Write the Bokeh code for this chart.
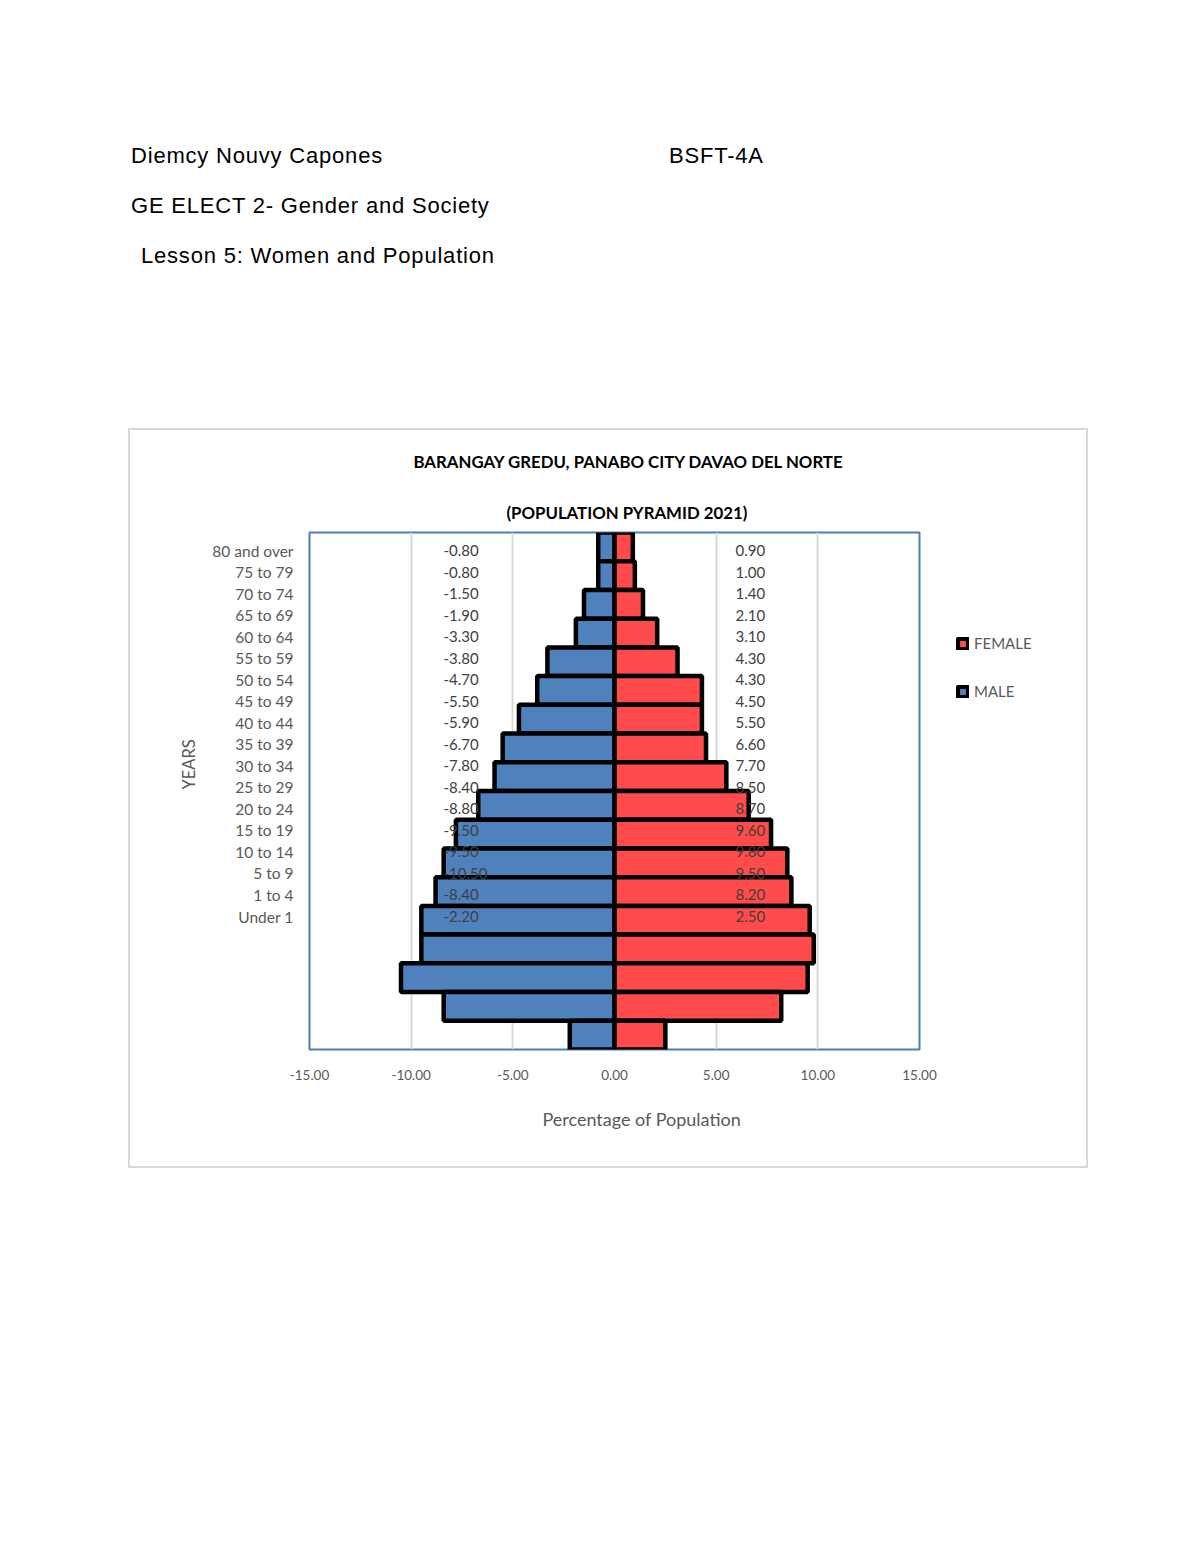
from bokeh.plotting import figure
from bokeh.layouts import column, row
from bokeh.models import (Range1d, LinearAxis, FixedTicker, NumeralTickFormatter, Title,
                          Legend, LegendItem, ColumnDataSource, Div, Spacer)
from bokeh.core.properties import value
from bokeh.embed import file_html
from bokeh.resources import INLINE

# ---------------- data ----------------
age_groups = ["80 and over", "75 to 79", "70 to 74", "65 to 69", "60 to 64", "55 to 59",
              "50 to 54", "45 to 49", "40 to 44", "35 to 39", "30 to 34", "25 to 29",
              "20 to 24", "15 to 19", "10 to 14", "5 to 9", "1 to 4", "Under 1"]
male = [-0.8, -0.8, -1.5, -1.9, -3.3, -3.8, -4.7, -5.5, -5.9, -6.7, -7.8, -8.4,
        -8.8, -9.5, -9.5, -10.5, -8.4, -2.2]
female = [0.9, 1.0, 1.4, 2.1, 3.1, 4.3, 4.3, 4.5, 5.5, 6.6, 7.7, 8.5,
          8.7, 9.6, 9.8, 9.5, 8.2, 2.5]
x_ticks = [-15, -10, -5, 0, 5, 10, 15]
series_names = ["FEMALE", "MALE"]

title_1 = "BARANGAY GREDU, PANABO CITY DAVAO DEL NORTE"
title_2 = "(POPULATION PYRAMID 2021)"
x_title = "Percentage of Population"
y_title = "YEARS"
header = [("Diemcy Nouvy Capones", 131, 156), ("BSFT-4A", 669, 156),
          ("GE ELECT 2- Gender and Society", 131, 206),
          ("Lesson 5: Women and Population", 141, 256)]

# ---------------- layout constants (page pixels) ----------------
PAGE_W = 1200
BORDER = 2
BOX_L, BOX_T, BOX_R, BOX_B = 128, 428, 1088, 1168     # chart box (outer edge of grey border)
IN_L, IN_T, IN_R, IN_B = BOX_L + BORDER, BOX_T + BORDER, BOX_R - BORDER, BOX_B - BORDER
FL, FR, FT, FB = 309, 919, 532, 1049                  # plot frame
RIGHT_PAD = 30                                        # room for the last x tick label
LAB_FIRST, LAB_STEP = 550, 21.53                      # misplaced Excel labels
LEG_X, LEG_ITEM1_TOP = 956, 633
BLUE, RED = "#4F81BD", "#FF4B4B"
GREY_TXT = "#595959"
BAR_STYLE = dict(line_color="black", line_width=4.5)

n = len(age_groups)
idx = list(range(n))
src = ColumnDataSource(dict(
    age=age_groups, male=male, female=female, idx=idx,
    male_txt=[f"{v:.2f}" for v in male], female_txt=[f"{v:.2f}" for v in female]))

inner_h = IN_B - IN_T
p = figure(width=FR + RIGHT_PAD - IN_L, height=inner_h, x_range=Range1d(-15, 15),
           y_range=Range1d(start=n - 0.5, end=-0.5),
           output_backend="svg", toolbar_location=None, y_axis_location=None,
           min_border_left=FL - IN_L, min_border_right=RIGHT_PAD,
           min_border_top=FT - IN_T, min_border_bottom=IN_B - FB, margin=0)
p.background_fill_color = "white"
p.border_fill_color = "white"
p.outline_line_color = "#4A7EBB"
p.outline_line_width = 2

# label range so that category / data labels sit where Excel put them
p.extra_y_ranges = {"lab": Range1d(start=(FB - LAB_FIRST) / LAB_STEP, end=(FT - LAB_FIRST) / LAB_STEP)}

# x axis
p.xaxis.ticker = FixedTicker(ticks=x_ticks)
p.xaxis.formatter = NumeralTickFormatter(format="0.00")
p.xaxis.axis_line_color = None
p.xaxis.major_tick_line_color = None
p.xaxis.minor_tick_line_color = None
p.xaxis.major_tick_out = 0
p.xaxis.minor_tick_out = 0
p.xaxis.major_label_standoff = 20
p.xaxis.major_label_text_font = "Lato"
p.xaxis.major_label_text_font_size = "13.5px"
p.xaxis.major_label_text_color = GREY_TXT

p.xgrid.ticker = FixedTicker(ticks=x_ticks)
p.xgrid.grid_line_color = "#D9D9D9"
p.xgrid.grid_line_width = 2
p.ygrid.grid_line_color = None

# category axis
cat_axis = LinearAxis(y_range_name="lab", ticker=FixedTicker(ticks=idx),
                      major_label_overrides={i: a for i, a in zip(idx, age_groups)},
                      axis_line_color=None, major_tick_line_color=None, minor_tick_line_color=None,
                      major_tick_out=0, minor_tick_out=0,
                      major_label_standoff=16, major_label_text_font="Lato",
                      major_label_text_font_size="15.5px", major_label_text_color=GREY_TXT)
p.add_layout(cat_axis, "left")

# titles (Excel placement is slightly off-centre, so they are left-aligned with offsets)
p.add_layout(Title(text=title_2, align="left", offset=506 - FL, standoff=19, text_font="Lato",
                   text_font_size="16.8px", text_font_style="bold", text_color="black"), "above")
p.add_layout(Title(text=title_1, align="left", offset=413 - FL, standoff=37, text_font="Lato",
                   text_font_size="16.8px", text_font_style="bold", text_color="black"), "above")
p.add_layout(Title(text=x_title, align="left", offset=542 - FL, standoff=46, text_font="Lato",
                   text_font_size="18px", text_font_style="normal", text_color=GREY_TXT), "below")
p.add_layout(Title(text=y_title, align="left", offset=FB - 789, standoff=22, text_font="Lato",
                   text_font_size="16.5px", text_font_style="normal", text_color=GREY_TXT), "left")

# bars
rm = p.hbar(y="idx", left="male", right=0, height=1.0, source=src, fill_color=BLUE, **BAR_STYLE)
rf = p.hbar(y="idx", left=0, right="female", height=1.0, source=src, fill_color=RED, **BAR_STYLE)

# data labels
p.text(x=-8.41, y="idx", text="male_txt", y_range_name="lab", source=src,
       text_font=value("Lato"), text_font_size="15px", text_color="#404040",
       text_align="left", text_baseline="middle")
p.text(x=5.95, y="idx", text="female_txt", y_range_name="lab", source=src,
       text_font=value("Lato"), text_font_size="15px", text_color="#404040",
       text_align="left", text_baseline="middle")

# legend strip (right part of the chart box); its frame is aligned with the main frame.
# Its bar renderers exist only to give the legend its swatches: they are muted with
# alpha 0 (and out of range), so only the legend is visible there.
pl_left = FR + RIGHT_PAD
pl = figure(width=IN_R - pl_left, height=inner_h, output_backend="svg", toolbar_location=None,
            x_range=Range1d(100, 101), y_range=Range1d(-100, -99),
            x_axis_location=None, y_axis_location=None, min_border=0, margin=0,
            outline_line_color=None)
pl.xgrid.visible = False
pl.ygrid.visible = False
pl.background_fill_color = "white"
pl.border_fill_color = "white"
lf = pl.hbar(y="idx", left=0, right="female", height=1.0, source=src, fill_color=RED,
             muted_alpha=0, **BAR_STYLE)
lm = pl.hbar(y="idx", left="male", right=0, height=1.0, source=src, fill_color=BLUE,
             muted_alpha=0, **BAR_STYLE)
lf.muted = True
lm.muted = True
label_h, spacing = 20, 28
leg_bottom = LEG_ITEM1_TOP + 2 * label_h + spacing
legend = Legend(items=[LegendItem(label=series_names[0], renderers=[lf], index=0),
                       LegendItem(label=series_names[1], renderers=[lm], index=0)],
                location=(LEG_X - pl_left, FB - leg_bottom), orientation="vertical",
                padding=0, margin=0, spacing=spacing, glyph_width=13, glyph_height=13,
                label_height=label_h, label_standoff=5, label_text_font="Lato",
                label_text_font_size="15px", label_text_color=GREY_TXT,
                border_line_color=None, background_fill_alpha=0,
                inactive_fill_alpha=0)
pl.add_layout(legend)

# page header
lines = "".join(
    f'<div style="position:absolute;left:{x}px;top:{y - 13}px;line-height:26px;white-space:nowrap;">{t}</div>'
    for t, x, y in header)
head = Div(text=f'<div style="position:relative;width:{PAGE_W}px;height:{BOX_T}px;'
                f'font-family:\'Liberation Sans\';font-size:22px;letter-spacing:0.8px;color:#000;">{lines}</div>',
           width=PAGE_W, height=BOX_T, margin=0)

chart_box = row(p, pl, spacing=0, margin=0,
                styles={"border": f"{BORDER}px solid #D9D9D9"})
layout = column(head, row(Spacer(width=BOX_L, height=BOX_B - BOX_T, margin=0), chart_box,
                          spacing=0, margin=0), spacing=0, margin=0)

open("out.html", "w").write(file_html(layout, INLINE))
